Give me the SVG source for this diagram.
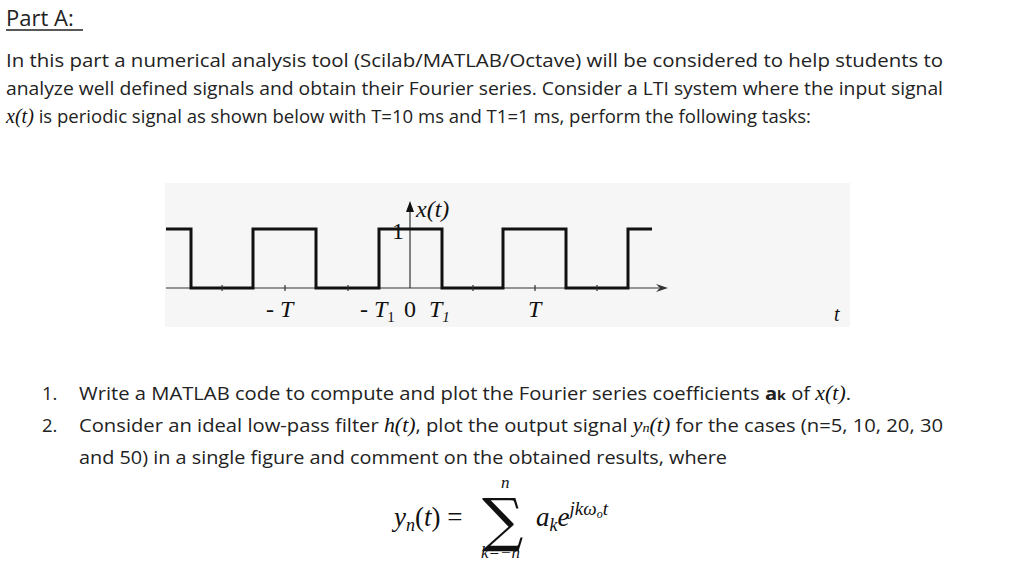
<svg xmlns="http://www.w3.org/2000/svg" width="1021" height="576" viewBox="0 0 1021 576">
<style>
.t{font-family:"Open Sans","Liberation Sans",sans-serif;font-size:18.5px;fill:#222}
.s{font-family:"Liberation Serif",serif;fill:#111}
.w{fill:none;stroke:#111;stroke-width:3}
</style>
<rect width="1021" height="576" fill="#fff"/>
<text x="6" y="26" class="t" style="font-size:22px">Part A:</text>
<line x1="6" y1="30" x2="83" y2="30" stroke="#222" stroke-width="1.3"/>
<text x="6" y="67" class="t" textLength="937" lengthAdjust="spacingAndGlyphs">In this part a numerical analysis tool (Scilab/MATLAB/Octave) will be considered to help students to</text>
<text x="6" y="95" class="t" textLength="937" lengthAdjust="spacingAndGlyphs">analyze well defined signals and obtain their Fourier series. Consider a LTI system where the input signal</text>
<text x="6" y="123" class="t" textLength="805" lengthAdjust="spacingAndGlyphs"><tspan class="s" font-style="italic" style="font-size:20px">x(t)</tspan> is periodic signal as shown below with T=10 ms and T1=1 ms, perform the following tasks:</text>
<g id="plot">
<rect x="165" y="183" width="685" height="144" fill="#f6f6f6"/>
<line x1="166" y1="288" x2="660" y2="288" stroke="#333" stroke-width="1.2"/>
<path d="M656 284 L668 288 L656 292 L660 288Z" fill="#333"/>
<line x1="410" y1="288" x2="410" y2="206" stroke="#333" stroke-width="1.2"/>
<path d="M406 212 L410 201 L414 212Z" fill="#111"/>
<path class="w" d="M166 229 H191 V288 H253 V229 H316 V288 H379 V229 H442 V288 H503 V229 H566 V288 H628 V229 H652"/>
<g stroke="#333" stroke-width="1.2"><line x1="222" y1="285" x2="222" y2="291"/><line x1="285" y1="285" x2="285" y2="291"/><line x1="348" y1="285" x2="348" y2="291"/><line x1="473" y1="285" x2="473" y2="291"/><line x1="535" y1="285" x2="535" y2="291"/><line x1="597" y1="285" x2="597" y2="291"/></g>
<g class="s" style="font-size:24px">
<text x="416" y="217" font-style="italic">x(t)</text>
<text x="404" y="239" text-anchor="end">1</text>
<text x="266" y="317">- <tspan font-style="italic">T</tspan></text>
<text x="360" y="317">- <tspan font-style="italic">T</tspan><tspan style="font-size:15px" dy="5">1</tspan></text>
<text x="404" y="317">0</text>
<text x="429" y="317" font-style="italic">T<tspan style="font-size:15px" dy="5">1</tspan></text>
<text x="528" y="317" font-style="italic">T</text>
<text x="834" y="321" font-style="italic" style="font-size:20px">t</text>
</g>
</g>
<text x="42" y="400" class="t">1.</text>
<text x="79" y="400" class="t" textLength="772" lengthAdjust="spacingAndGlyphs">Write a MATLAB code to compute and plot the Fourier series coefficients <tspan font-weight="bold">a</tspan><tspan font-weight="bold" style="font-size:13px">k</tspan> of <tspan class="s" font-style="italic" style="font-size:20px">x(t)</tspan>.</text>
<text x="42" y="432" class="t">2.</text>
<text x="79" y="432" class="t" textLength="864" lengthAdjust="spacingAndGlyphs">Consider an ideal low-pass filter <tspan class="s" font-style="italic" style="font-size:20px">h(t)</tspan>, plot the output signal <tspan class="s" font-style="italic" style="font-size:20px">y<tspan style="font-size:13px">n</tspan>(t)</tspan> for the cases (n=5, 10, 20, 30</text>
<text x="79" y="464" class="t" textLength="648" lengthAdjust="spacingAndGlyphs">and 50) in a single figure and comment on the obtained results, where</text>
<g id="formula" class="s" font-style="italic">
<text x="394" y="526" style="font-size:27px">y<tspan style="font-size:18px" dy="5">n</tspan><tspan dy="-5" font-style="normal">(</tspan>t<tspan font-style="normal">) =</tspan></text>
<text x="501" y="488" style="font-size:17px">n</text>
<text x="482" y="540" font-style="normal" style="font-size:58px;font-family:'DejaVu Serif',serif">∑</text>
<text x="481" y="558" style="font-size:17px">k=−n</text>
<text x="536" y="526" style="font-size:27px">a<tspan style="font-size:18px" dy="5">k</tspan><tspan dy="-5">e</tspan><tspan style="font-size:19px" dy="-11">jkω</tspan><tspan style="font-size:12px" dy="3">o</tspan><tspan style="font-size:19px" dy="-3">t</tspan></text>
</g>
</svg>
